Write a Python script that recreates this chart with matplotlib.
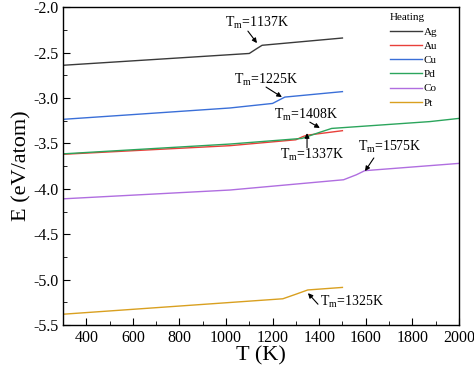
import matplotlib
matplotlib.use("Agg")
import matplotlib.pyplot as plt
from matplotlib.ticker import MultipleLocator

plt.rcParams['font.family'] = ['Liberation Serif', 'DejaVu Serif']
plt.rcParams['mathtext.fontset'] = 'custom'
plt.rcParams['mathtext.rm'] = 'Liberation Serif'
plt.rcParams['mathtext.it'] = 'Liberation Serif:italic'

# energy vs temperature (heating runs)
ag_T = [300, 1100, 1130, 1155, 1500]
ag_E = [-2.64, -2.51, -2.46, -2.42, -2.34]
au_T = [300, 1017, 1300, 1330, 1347, 1500]
au_E = [-3.62, -3.525, -3.46, -3.425, -3.41, -3.36]
cu_T = [300, 1017, 1200, 1230, 1253, 1500]
cu_E = [-3.235, -3.11, -3.06, -3.02, -2.99, -2.93]
pd_T = [300, 1017, 1326, 1400, 1454, 1875, 2000]
pd_E = [-3.615, -3.507, -3.445, -3.38, -3.335, -3.26, -3.225]
co_T = [300, 1017, 1505, 1560, 1596, 2000]
co_E = [-4.11, -4.013, -3.90, -3.845, -3.80, -3.72]
pt_T = [300, 1244, 1300, 1351, 1500]
pt_E = [-5.38, -5.21, -5.16, -5.113, -5.085]

series = [("Ag", ag_T, ag_E, "#3a3a3a"),
          ("Au", au_T, au_E, "#e8403a"),
          ("Cu", cu_T, cu_E, "#3a6fd8"),
          ("Pd", pd_T, pd_E, "#2ba55c"),
          ("Co", co_T, co_E, "#b06ee0"),
          ("Pt", pt_T, pt_E, "#d9a020")]

# melting point labels: text, text centre, arrow tip, arrow tail (data coords)
labels = [("1137K", (1133, -2.176), (1133, -2.396), (1094, -2.264)),
          ("1225K", (1172, -2.80), (1240, -2.99), (1172, -2.88)),
          ("1408K", (1343, -3.19), (1403, -3.33), (1360, -3.266)),
          ("1337K", (1369, -3.63), (1348, -3.387), (1348, -3.55)),
          ("1575K", (1704, -3.54), (1597, -3.805), (1635, -3.66)),
          ("1325K", (1541, -5.245), (1352, -5.148), (1395, -5.27))]

fig = plt.figure(figsize=(4.74, 3.75), dpi=100)
ax = fig.add_axes([0.133, 0.133, 0.835, 0.848])

for name, T, E, c in series:
    ax.plot(T, E, color=c, lw=1.0, label=name)

for val, txy, tip, start in labels:
    ax.text(txy[0], txy[1], r"T$_\mathrm{m}$=" + val, fontsize=10, ha="center", va="center")
    ax.annotate("", xy=tip, xytext=start,
                arrowprops=dict(arrowstyle="-|>", color="black", lw=0.8,
                                mutation_scale=7, shrinkA=0, shrinkB=0))

ax.set_xlim(300, 2000)
ax.set_ylim(-5.5, -2.0)
ax.xaxis.set_major_locator(MultipleLocator(200))
ax.xaxis.set_minor_locator(MultipleLocator(100))
ax.yaxis.set_major_locator(MultipleLocator(0.5))
ax.yaxis.set_minor_locator(MultipleLocator(0.25))
ax.tick_params(which="both", direction="in", top=False, right=False, labelsize=11.5)
ax.tick_params(which="major", length=5)
ax.tick_params(which="minor", length=3)
ax.yaxis.set_major_formatter(matplotlib.ticker.FormatStrFormatter("%.1f"))
ax.set_xlabel("T (K)", fontsize=16, labelpad=0)
ax.set_ylabel("E (eV/atom)", fontsize=16, labelpad=1)
for s in ax.spines.values():
    s.set_linewidth(1.0)

leg = ax.legend(title="Heating", loc="upper right", bbox_to_anchor=(0.965, 1.005),
                frameon=False, fontsize=8, title_fontsize=8, handlelength=2.9,
                handletextpad=0.15, labelspacing=0.4, borderaxespad=0.3,
                alignment="left")

fig.savefig("out.png", dpi=100)
